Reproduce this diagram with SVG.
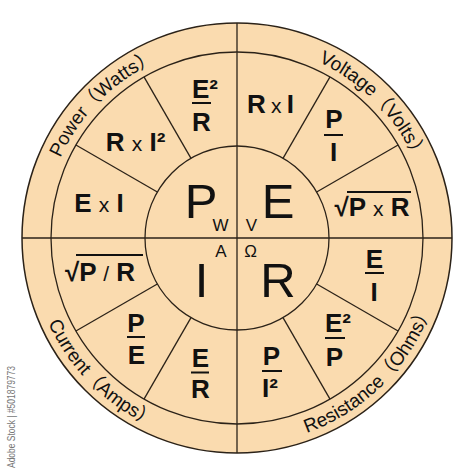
<svg xmlns="http://www.w3.org/2000/svg" width="474" height="476" viewBox="0 0 474 476">
<style>
.disk{fill:#FADBAF;stroke:#2b2218;stroke-width:1.5}
.ln{stroke:#2b2218;stroke-width:1.3;fill:none}
.lbl{font-family:"Liberation Sans","Noto Sans CJK SC",Arial,sans-serif;font-size:19px;fill:#111}
.big{font-family:"Liberation Sans",Arial,sans-serif;font-size:49px;fill:#111;text-anchor:middle}
.unit{font-family:"Liberation Sans",Arial,sans-serif;font-size:17px;fill:#111;text-anchor:middle}
.f{font-family:"Liberation Sans",Arial,sans-serif;font-weight:bold;font-size:26px;fill:#111;text-anchor:middle}
.s{text-anchor:start}
.x{font-weight:normal;font-size:21px}
.bar{stroke:#111;stroke-width:2}
.wm{font-family:"Liberation Sans",Arial,sans-serif;font-size:10px;fill:#777}
</style>
<defs>
<path id="arcTL" d="M 43 238 A 194 194 0 0 1 237 44"/>
<path id="arcTR" d="M 237 44 A 194 194 0 0 1 431 238"/>
<path id="arcBL" d="M 30 238 A 207 207 0 0 0 237 445"/>
<path id="arcBR" d="M 237 445 A 207 207 0 0 0 444 238"/>
</defs>
<g id="rings">
<circle class="disk" cx="237" cy="238" r="215"/>
<circle class="ln" cx="237" cy="238" r="186"/>
<circle class="ln" cx="237" cy="238" r="92"/>
</g>
<g id="connectors" class="ln">
<line x1="22" y1="238" x2="452" y2="238"/>
<line x1="237" y1="23" x2="237" y2="453"/>
<line x1="157.33" y1="192" x2="75.92" y2="145"/>
<line x1="191" y1="158.33" x2="144" y2="76.92"/>
<line x1="283" y1="158.33" x2="330" y2="76.92"/>
<line x1="316.67" y1="192" x2="398.08" y2="145"/>
<line x1="316.67" y1="284" x2="398.08" y2="331"/>
<line x1="283" y1="317.67" x2="330" y2="399.08"/>
<line x1="191" y1="317.67" x2="144" y2="399.08"/>
<line x1="157.33" y1="284" x2="75.92" y2="331"/>
</g>
<g id="labels">
<text class="lbl"><textPath href="#arcTL" startOffset="50%" text-anchor="middle">Power（Watts）</textPath></text>
<text class="lbl"><textPath href="#arcTR" startOffset="51%" text-anchor="middle">Voltage（Volts）</textPath></text>
<text class="lbl"><textPath href="#arcBL" startOffset="50%" text-anchor="middle">Current（Amps）</textPath></text>
<text class="lbl"><textPath href="#arcBR" startOffset="50%" text-anchor="middle">Resistance（Ohms）</textPath></text>
</g>
<g id="center">
<text class="big" x="201" y="218">P</text>
<text class="big" x="278" y="218">E</text>
<text class="big" x="201.5" y="297">I</text>
<text class="big" x="278" y="297">R</text>
<text class="unit" x="220.5" y="231">W</text>
<text class="unit" x="251.5" y="231">V</text>
<text class="unit" x="221" y="257">A</text>
<text class="unit" x="250.5" y="257">Ω</text>
</g>
<g id="power-formulas">
<text class="f" x="99" y="212">E <tspan class="x">x</tspan> I</text>
<text class="f" x="135.5" y="151">R <tspan class="x">x</tspan> I²</text>
<text class="f s" x="192" y="98">E²</text>
<line class="bar" x1="192" y1="103" x2="211" y2="103"/>
<text class="f" x="201.5" y="131">R</text>
</g>
<g id="voltage-formulas">
<text class="f" x="270.5" y="113" word-spacing="-2">R <tspan class="x">x</tspan> I</text>
<text class="f" x="334" y="128">P</text>
<line class="bar" x1="324" y1="135" x2="343" y2="135"/>
<text class="f" x="333.5" y="161">I</text>
<text class="f" x="372" y="216">√P <tspan class="x">x</tspan> R</text>
<line class="bar" x1="347" y1="192" x2="411" y2="192"/>
</g>
<g id="current-formulas">
<text class="f" x="100" y="281">√P <tspan class="x">/</tspan> R</text>
<line class="bar" x1="76" y1="255" x2="143" y2="255"/>
<text class="f" x="136" y="332">P</text>
<line class="bar" x1="127" y1="337" x2="145" y2="337"/>
<text class="f" x="136.5" y="364">E</text>
<text class="f" x="200.5" y="367">E</text>
<line class="bar" x1="191" y1="372.5" x2="209" y2="372.5"/>
<text class="f" x="200.5" y="398">R</text>
</g>
<g id="resistance-formulas">
<text class="f" x="374.5" y="268">E</text>
<line class="bar" x1="365" y1="273" x2="384" y2="273"/>
<text class="f" x="374" y="301">I</text>
<text class="f s" x="325" y="332">E²</text>
<line class="bar" x1="325" y1="338" x2="345" y2="338"/>
<text class="f" x="334.5" y="366">P</text>
<text class="f" x="271.5" y="365">P</text>
<line class="bar" x1="262" y1="371" x2="282" y2="371"/>
<text class="f s" x="262" y="397">I²</text>
</g>
<text class="wm" transform="translate(15,468) rotate(-90)" textLength="102" lengthAdjust="spacingAndGlyphs">Adobe Stock | #501879773</text>
</svg>
